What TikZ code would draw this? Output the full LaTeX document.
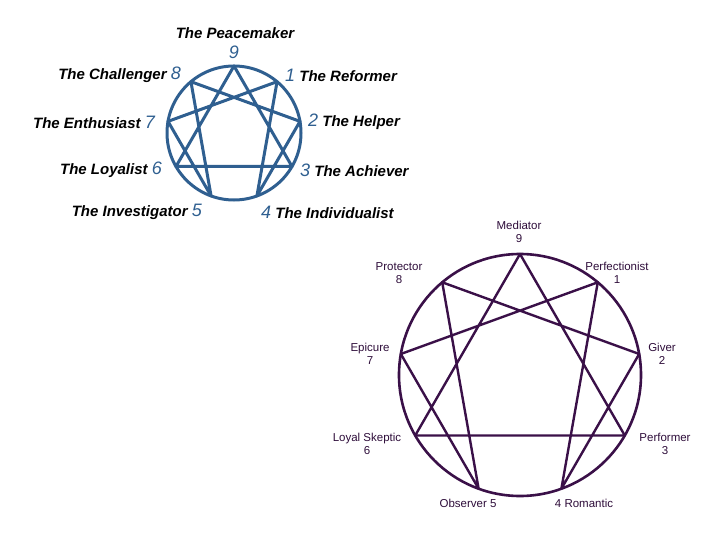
\documentclass[tikz,border=0pt]{standalone}
\usepackage{fontspec}
\setmainfont{Liberation Sans}
\begin{document}
\begin{tikzpicture}[x=1pt,y=-1pt,
  tl/.style={font=\fontsize{15}{16}\selectfont\bfseries\itshape, inner sep=0pt},
  bl/.style={font=\fontsize{11.5}{13}\selectfont, text=epurp!80!black, align=center, inner sep=0pt}]
\definecolor{eblue}{HTML}{2F5F90}
\definecolor{epurp}{HTML}{3A1048}
\newcommand{\nb}[1]{\textcolor{eblue}{\mdseries\fontsize{18}{18}\selectfont #1}}
\useasboundingbox (0,0) rectangle (720,540);
% top enneagram
\def\cxa{234}\def\cya{133}\def\ra{67}
\foreach \k in {1,...,9}{\coordinate (a\k) at ({\cxa+\ra*sin(40*\k)},{\cya-\ra*cos(40*\k)});}
\draw[eblue, line width=3pt] (\cxa,\cya) circle (\ra);
\draw[eblue, line width=3pt, line join=round] (a9)--(a3)--(a6)--cycle (a1)--(a4)--(a2)--(a8)--(a5)--(a7)--cycle;
\node[tl] (t9) at (235,33) {The Peacemaker};
\node[tl] (n9) at (234,52) {\nb{9}};
\node[tl,anchor=east] (t8) at (181,75) {The Challenger \nb{8}};
\node[tl,anchor=west] (t1) at (285,75) {\nb{1} The Reformer};
\node[tl,anchor=east] (t7) at (155,122) {The Enthusiast \nb{7}};
\node[tl,anchor=west] (t2) at (308,122) {\nb{2} The Helper};
\node[tl,anchor=east] (t6) at (162,170) {The Loyalist \nb{6}};
\node[tl,anchor=west] (t3) at (300,170) {\nb{3} The Achiever};
\node[tl,anchor=east] (t5) at (202,212) {The Investigator \nb{5}};
\node[tl,anchor=west] (t4) at (261,212) {\nb{4} The Individualist};
% bottom enneagram
\def\cxb{520}\def\cyb{375}\def\rb{121}
\foreach \k in {1,...,9}{\coordinate (b\k) at ({\cxb+\rb*sin(40*\k)},{\cyb-\rb*cos(40*\k)});}
\draw[epurp, line width=2.6pt] (\cxb,\cyb) circle (\rb);
\draw[epurp, line width=2.4pt, line join=round] (b9)--(b3)--(b6)--cycle (b1)--(b4)--(b2)--(b8)--(b5)--(b7)--cycle;
\node[bl] (m9) at (519,232) {Mediator\\9};
\node[bl] (m8) at (399,273) {Protector\\8};
\node[bl] (m1) at (617,273) {Perfectionist\\1};
\node[bl] (m7) at (370,354) {Epicure\\7};
\node[bl] (m2) at (662,354) {Giver\\2};
\node[bl] (m6) at (367,444) {Loyal Skeptic\\6};
\node[bl] (m3) at (665,444) {Performer\\3};
\node[bl] (m5) at (468,503) {Observer 5};
\node[bl] (m4) at (584,503) {4 Romantic};
\end{tikzpicture}
\end{document}
